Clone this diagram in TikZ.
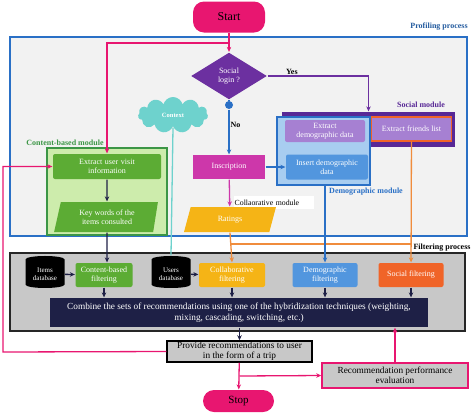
\documentclass[tikz,border=0pt]{standalone}
\usepackage{fontspec}
\setmainfont{Liberation Serif}
\usepackage{tikz}
\usetikzlibrary{shapes.geometric,shapes.symbols,arrows.meta,positioning}
\definecolor{hotpink}{RGB}{232,22,112}
\definecolor{socpurple}{RGB}{108,48,160}
\definecolor{darkpurple}{RGB}{88,40,150}
\definecolor{lavender}{RGB}{166,128,210}
\definecolor{demoblue}{RGB}{42,112,198}
\definecolor{lightblue}{RGB}{168,205,240}
\definecolor{midblue}{RGB}{82,150,222}
\definecolor{inscmag}{RGB}{205,55,170}
\definecolor{rateorange}{RGB}{245,180,22}
\definecolor{lineorange}{RGB}{240,140,60}
\definecolor{socorange}{RGB}{240,100,40}
\definecolor{cbgreen}{RGB}{92,172,52}
\definecolor{cbmfill}{RGB}{205,236,172}
\definecolor{cbmline}{RGB}{60,150,70}
\definecolor{cloudcyan}{RGB}{110,210,205}
\definecolor{profbg}{RGB}{242,242,242}
\definecolor{filtbg}{RGB}{200,200,200}
\definecolor{navy}{RGB}{30,32,70}

\begin{document}
\begin{tikzpicture}[x=1pt,y=-1pt,line width=1.3pt,
      box/.style={rounded corners=2pt,text=white,align=center,inner sep=1pt,
        font=\fontsize{8}{9}\selectfont,minimum height=24pt},
      db/.style={cylinder,shape border rotate=90,aspect=0.28,fill=black,text=white,
        minimum width=39pt,minimum height=32pt,inner sep=0pt,align=center,
        font=\fontsize{7}{8}\selectfont},
      lbl/.style={font=\bfseries\fontsize{8}{9}\selectfont,inner sep=1pt},
      pill/.style={fill=hotpink,rounded corners=11pt,font=\fontsize{12}{13}\selectfont},
      gbox/.style={fill=filtbg,draw,line width=1.5pt,align=center,inner sep=1pt,
        font=\fontsize{9.3}{10}\selectfont},
      arr/.style={-{Stealth[length=5pt,width=4.5pt]}},
      darr/.style={arr,navy}]
    \useasboundingbox (0,0) rectangle (474,416);
    % profiling process
    \draw[demoblue,line width=1.6pt,fill=profbg] (10,37) rectangle (467,236);
    \node[lbl,text=demoblue!80!black] at (439,27){Profiling process};
    % filtering process
    \draw[black!85,line width=1.8pt,fill=filtbg] (10,253) rectangle (465,331);
    \node[lbl] at (442,248){Filtering process};

    \node[pill,minimum width=72pt,minimum height=31pt](start) at (229,17){Start};
    \node[diamond,fill=socpurple,text=white,minimum width=76pt,minimum height=47pt,
      inner sep=0pt,align=center,font=\fontsize{8}{9}\selectfont](soc) at (229,76){Social\\login ?};
    \node[circle,fill=demoblue,inner sep=0pt,minimum size=8pt](dot) at (229,105){};
    \node[cloud,cloud puffs=11,aspect=2,fill=cloudcyan,text=white,minimum width=70pt,
      minimum height=36pt,inner sep=0pt,font=\bfseries\fontsize{6.5}{7.5}\selectfont](ctx) at (173,115){Context};

    % content-based module
    \node[draw=cbmline,fill=cbmfill,minimum width=120pt,minimum height=87pt](cbm) at (107,191.5){};
    \node[lbl,text=cbmline] at (65,143){Content-based module};
    \node[box,fill=cbgreen,minimum width=108pt,minimum height=25pt,text width=100pt](ext) at (107,166.5){Extract user visit\\information};
    \node[trapezium,trapezium left angle=76,trapezium right angle=100,fill=cbgreen,text=white,
      align=center,inner sep=1pt,minimum width=104pt,minimum height=30pt,trapezium stretches=true,
      font=\fontsize{8}{9}\selectfont](kw) at (107,217){Key words of the\\items consulted};

    % social and demographic modules
    \node[fill=darkpurple,minimum width=173pt,minimum height=35pt](sm) at (368.5,129.5){};
    \node[lbl,text=darkpurple] at (421,105){Social module};
    \node[box,fill=lavender,draw=socorange,rounded corners=0pt,minimum width=80pt](efl) at (411.5,129){Extract friends list};
    \node[draw=demoblue,fill=lightblue,minimum width=93pt,minimum height=68pt](dm) at (323.5,151){};
    \node[lbl,text=demoblue] at (366,192){Demographic module};
    \node[box,fill=lavender,minimum width=80pt,minimum height=22pt](exd) at (325,131){Extract\\demographic data};
    \node[box,fill=midblue,minimum width=82pt,minimum height=25pt](ind) at (327,167){Insert demographic\\data};

    \node[box,fill=inscmag,rounded corners=0pt,minimum width=72pt](ins) at (229,167){Inscription};
    \node[fill=white,font=\fontsize{7.8}{8.5}\selectfont,inner sep=1pt,anchor=west,minimum width=80pt,
      minimum height=13pt,text width=78pt](col) at (233,202.5){Collaorative module};
    \node[trapezium,trapezium left angle=76,trapezium right angle=104,fill=rateorange,text=white,
      inner sep=1pt,minimum width=92pt,minimum height=25pt,trapezium stretches=true,
      font=\fontsize{8}{9}\selectfont](rat) at (230,219.5){Ratings};

    % filtering
    \node[db](idb) at (45,274){Items\\database};
    \node[db](udb) at (171,274){Users\\database};
    \node[box,fill=cbgreen,minimum width=57pt](cbf) at (104,275){Content-based\\filtering};
    \node[box,fill=rateorange,minimum width=66pt](cof) at (232,275){Collaborative\\filtering};
    \node[box,fill=midblue,minimum width=65pt](def) at (325,275){Demographic\\filtering};
    \node[box,fill=socorange,minimum width=65pt](sof) at (411,275){Social filtering};
    \node[fill=navy,text=white,align=center,minimum width=378pt,minimum height=29pt,inner sep=1pt,
      font=\fontsize{9.3}{10.5}\selectfont](comb) at (239,312.5){Combine the sets of recommendations using one of the hybridization techniques (weighting,\\mixing, cascading, switching, etc.)};

    \node[gbox,minimum width=145pt,minimum height=21pt](prov) at (239.5,351.5){Provide recommendations to user\\in the form of a trip};
    \node[gbox,draw=hotpink,minimum width=146pt,minimum height=25pt](rpe) at (395,375.5){Recommendation performance\\evaluation};
    \node[pill,minimum width=71pt,minimum height=22pt,font=\fontsize{11}{12}\selectfont](stop) at (238.5,401){Stop};

    \coordinate (j1) at (229,43);
    \coordinate (j2) at (239.5,376);
    \coordinate (j3) at (3,352);
    \coordinate (j4) at (230,244);
    \coordinate (j5) at (411.5,244);

    \draw[arr,hotpink] (start)--(soc);
    \draw[arr,hotpink] (j1)-|(ext.north);
    \draw[arr,socpurple] (soc.east)-|(sm.north) node[pos=0.12,above,lbl,text=black]{Yes};
    \draw[demoblue] (soc.south)--(dot);
    \draw[arr,demoblue] (dot)--(ins) node[pos=0.35,right,lbl,text=black]{No};
    \draw[arr,demoblue] (ins)--(ind);
    \draw[arr,inscmag] (ins)--(rat);
    \draw[arr,lineorange] (rat.south)--(cof.north);
    \draw[lineorange] (j4)--(j5);
    \draw[arr,lineorange] (efl)--(sof);
    \draw[arr,demoblue] (dm.south-|def.north)--(def.north);
    \draw[cloudcyan] (ctx.south)--(udb.north);
    \draw[darr] (ext)--(kw); \draw[darr] (kw)--(kw.south|-cbf.north);
    \draw[darr] (idb)--(cbf); \draw[darr] (udb)--(cof);
    \foreach \f in {cbf,cof,def,sof}
      \draw[darr] (\f.south)--(\f.south|-comb.north);
    \draw[darr] (comb.south-|prov.north)--(prov.north);
    \draw[arr,hotpink] (prov)--(stop);
    \draw[arr,hotpink] (j2)--(rpe.west);
    \draw[arr,hotpink] (rpe.north)--(rpe.north|-comb.south);
    \draw[arr,hotpink] (prov.west)--(j3)|-(ext.west);
  \end{tikzpicture}
\end{document}
